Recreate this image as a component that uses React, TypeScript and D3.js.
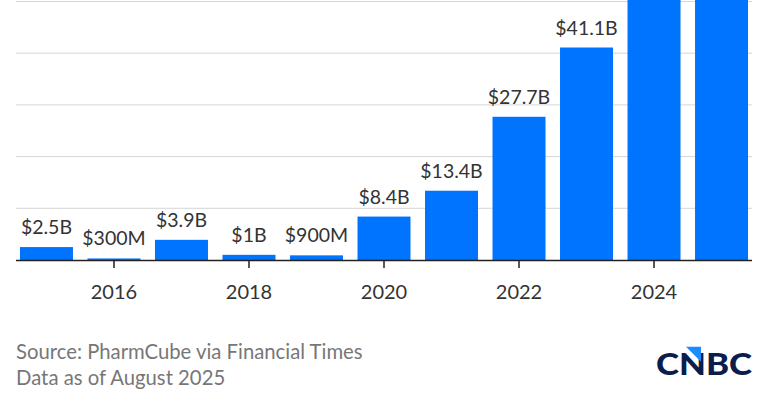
import React from "react";
import * as d3 from "d3";

const years = [2015, 2016, 2017, 2018, 2019, 2020, 2021, 2022, 2023, 2024, 2025];
const values = [2.5, 0.3, 3.9, 1, 0.9, 8.4, 13.4, 27.7, 41.1, 51.9, 60];
const valueLabels = ["$2.5B", "$300M", "$3.9B", "$1B", "$900M", "$8.4B", "$13.4B", "$27.7B", "$41.1B", "$51.9B", "$60B"];
const gridValues = [0, 10, 20, 30, 40, 50];
const tickYears = [2016, 2018, 2020, 2022, 2024];
const sourceLines = ["Source: PharmCube via Financial Times", "Data as of August 2025"];

const W = 768;
const H = 402;
const FONT = "Lato, 'Open Sans', sans-serif";

export default function App() {
  const x = d3.scaleBand<number>().domain(years).range([12.75, 755.25]).paddingInner(0.215).paddingOuter(0.107);
  const y = d3.scaleLinear().domain([0, 50]).range([260, 1.5]);
  const bw = x.bandwidth();

  return (
    <svg width={W} height={H} style={{ position: "absolute", left: 0, top: 0, background: "#fff" }}>
      <rect width={W} height={H} fill="#fff" />
      {gridValues.slice(1).map((g) => (
        <line key={g} x1={16} x2={752} y1={y(g)} y2={y(g)} stroke="#d6d6d6" strokeWidth={1} />
      ))}
      {years.map((yr, i) => (
        <rect key={yr} x={x(yr)} y={y(values[i])} width={bw} height={y(0) - y(values[i])} fill="#0073ff" />
      ))}
      {years.map((yr, i) => {
        const ly = y(values[i]) - 13;
        if (ly < 18) return null; // label lies above the visible (cropped) frame
        return (
          <text
            key={"l" + yr}
            x={(x(yr) as number) + bw / 2}
            y={ly}
            textAnchor="middle"
            fontFamily={FONT}
            fontSize={19.5}
            fill="#333"
          >
            {valueLabels[i]}
          </text>
        );
      })}
      <line x1={16} x2={752} y1={y(0) + 0.5} y2={y(0) + 0.5} stroke="#222" strokeWidth={1.5} />
      {tickYears.map((t) => {
        const cx = (x(t) as number) + bw / 2;
        return (
          <g key={"t" + t}>
            <line x1={cx} x2={cx} y1={y(0)} y2={y(0) + 8} stroke="#222" strokeWidth={1.5} />
            <text x={cx} y={299} textAnchor="middle" fontFamily={FONT} fontSize={20} fill="#333">
              {t}
            </text>
          </g>
        );
      })}
      {sourceLines.map((s, i) => (
        <text key={s} x={16} y={359 + i * 26} fontFamily={FONT} fontSize={20.3} fill="#777">
          {s}
        </text>
      ))}
      <g>
        <text x={656} y={375} fontFamily="Lato, sans-serif" fontWeight={900} fontSize={31} fill="#0b1d4a" textLength={96} lengthAdjust="spacingAndGlyphs">
          CNBC
        </text>
        <polygon points="686,346.7 701,346.7 701,361.7" fill="#1a8cff" />
      </g>
    </svg>
  );
}
